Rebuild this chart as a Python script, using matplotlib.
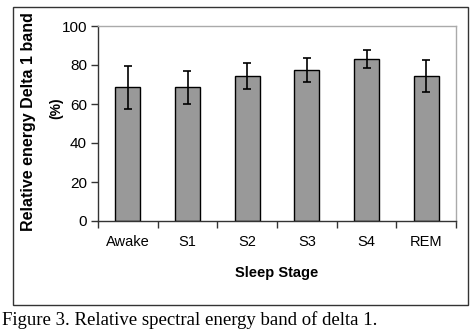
import matplotlib
matplotlib.use("Agg")
import matplotlib.pyplot as plt
from matplotlib.patches import Rectangle

categories = ["Awake", "S1", "S2", "S3", "S4", "REM"]
values = [68.5, 68.5, 74.4, 77.4, 83.1, 74.4]
errors = [11.0, 8.4, 6.8, 6.0, 4.4, 8.2]
yticks = [0, 20, 40, 60, 80, 100]

W, H = 474, 330
fig = plt.figure(figsize=(W / 100, H / 100), dpi=100)
fig.patch.set_facecolor("white")

# outer frame
fig.add_artist(Rectangle((13 / W, 1 - 305 / H), (468 - 13) / W, (305 - 7) / H,
                         transform=fig.transFigure, fill=False,
                         edgecolor="#333333", linewidth=1.0))

ax = fig.add_axes([98 / W, 1 - 221 / H, (456 - 98) / W, (221 - 26) / H])
x = list(range(len(categories)))
ax.bar(x, values, width=0.42, color="#999999", edgecolor="black", linewidth=1.0,
       yerr=errors, error_kw=dict(ecolor="black", elinewidth=1.2, capsize=3, capthick=1.2),
       zorder=2)
ax.set_xlim(-0.5, len(categories) - 0.5)
ax.set_ylim(0, 100)
ax.set_yticks(yticks)
ax.set_yticklabels([str(v) for v in yticks], fontsize=11, family="Liberation Sans")
ax.set_xticks([i + 0.5 for i in range(-1, len(categories))])
ax.set_xticklabels([])
ax.set_xticks(x, minor=True)
ax.set_xticklabels(categories, minor=True, fontsize=10.5, family="Liberation Sans")
ax.tick_params(axis="x", which="minor", length=0, pad=10)
ax.tick_params(axis="x", which="major", length=5, width=1, color="#333333", direction="out")
ax.tick_params(axis="y", length=5, width=1, color="#333333", direction="out", pad=3)

for s in ["left", "bottom"]:
    ax.spines[s].set_color("#333333")
    ax.spines[s].set_linewidth(1.0)
for s in ["top", "right"]:
    ax.spines[s].set_color("#aaaaaa")
    ax.spines[s].set_linewidth(1.0)

ax.set_xlabel("Sleep Stage", fontsize=10.5, fontweight="bold", family="Liberation Sans",
              labelpad=12)

fig.text(29 / W, 1 - 122 / H, "Relative energy Delta 1 band", rotation=90,
         ha="center", va="center", fontsize=11.5, fontweight="bold", family="Liberation Sans")
fig.text(56 / W, 1 - 108 / H, "(%)", rotation=90,
         ha="center", va="center", fontsize=10, fontweight="bold", family="Liberation Sans")

fig.text(2 / W, 1 - 325 / H, "Figure 3. Relative spectral energy band of delta 1.",
         ha="left", va="baseline", fontsize=13.5, family="Liberation Serif")

fig.savefig("out.png", dpi=100, facecolor="white")
